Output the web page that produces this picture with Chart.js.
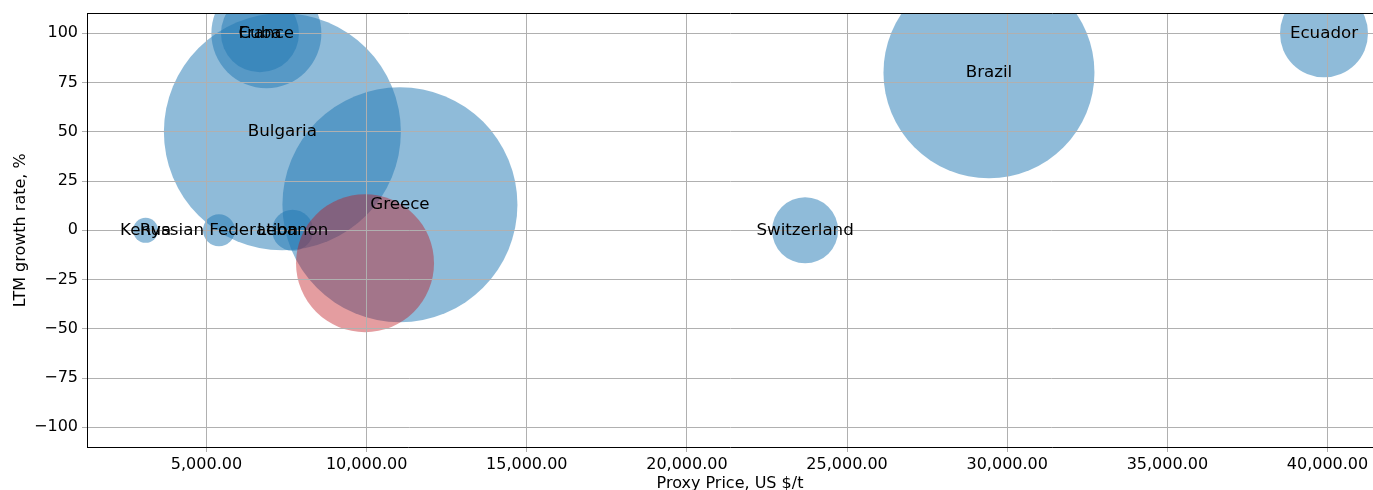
<!DOCTYPE html>
<html>
<head>
<meta charset="utf-8">
<script src="https://cdn.jsdelivr.net/npm/chart.js@4.4.1/dist/chart.umd.min.js"></script>
<style>
  html, body { margin: 0; padding: 0; background: #ffffff; }
  #wrap { width: 1373px; height: 490px; overflow: hidden; }
</style>
</head>
<body>
<div id="wrap"><canvas id="c" width="1373" height="490"></canvas></div>
<script>
// ---- data ----
const countries = ['Kenya', 'Russian Federation', 'Lebanon', 'Cuba', 'France', 'Bulgaria', 'Greece', 'Switzerland', 'Brazil', 'Ecuador'];
const proxyPrice = [3100, 5390, 7690, 6670, 6870, 7370, 11040, 23690, 29430, 39890];
const growthRate = [0, 0, 0, 100, 100, 50, 13, 0, 80, 100];
const bubbleRadius = [12.5, 16, 20.5, 39, 55, 118.5, 117.5, 33, 105.5, 44];

// highlighted (unlabelled) market
const highlightPrice = [9950];
const highlightGrowth = [-16.7];
const highlightRadius = [69];

const xTicks = [5000, 10000, 15000, 20000, 25000, 30000, 35000, 40000];
const yTicks = [-100, -75, -50, -25, 0, 25, 50, 75, 100];

// ---- chart ----
const FONT = 'DejaVu Sans';
const GRID = '#b0b0b0';

const mainData = countries.map((c, i) => ({ x: proxyPrice[i], y: growthRate[i], r: bubbleRadius[i], label: c }));
const highData = highlightPrice.map((p, i) => ({ x: p, y: highlightGrowth[i], r: highlightRadius[i] }));

const labelPlugin = {
  id: 'bubbleLabels',
  afterDraw(chart) {
    const ctx = chart.ctx;
    const meta = chart.getDatasetMeta(0);
    ctx.save();
    ctx.font = '16.7px "' + FONT + '"';
    ctx.fillStyle = '#000000';
    ctx.textAlign = 'center';
    ctx.textBaseline = 'middle';
    meta.data.forEach((el, i) => {
      ctx.fillText(chart.data.datasets[0].data[i].label, el.x, el.y);
    });
    ctx.restore();
  }
};

const fmtX = v => Number(v).toLocaleString('en-US', { minimumFractionDigits: 2, maximumFractionDigits: 2 });
const fmtY = v => v < 0 ? '\u2212' + Math.abs(v) : String(v);

new Chart(document.getElementById('c'), {
  type: 'bubble',
  data: {
    datasets: [
      {
        label: 'markets',
        data: mainData,
        backgroundColor: 'rgba(31,119,180,0.5)',
        borderWidth: 0,
        hoverBorderWidth: 0,
        order: 1,
        clip: 0
      },
      {
        label: 'highlight',
        data: highData,
        backgroundColor: 'rgba(190,22,28,0.42)',
        borderWidth: 0,
        hoverBorderWidth: 0,
        order: 0,
        clip: 0
      }
    ]
  },
  options: {
    responsive: false,
    devicePixelRatio: 1,
    animation: false,
    events: [],
    layout: { padding: 0, autoPadding: false },
    plugins: {
      legend: { display: false },
      tooltip: { enabled: false }
    },
    elements: { point: { hoverRadius: 0 } },
    scales: {
      x: {
        type: 'linear',
        position: 'bottom',
        min: 1270,
        max: 41420,
        afterBuildTicks: s => { s.ticks = xTicks.map(v => ({ value: v })); },
        afterFit: s => { s.height = 43; },
        ticks: {
          callback: v => fmtX(v),
          color: '#000000',
          font: { family: FONT, size: 16 },
          padding: 3,
          maxRotation: 0,
          autoSkip: false
        },
        grid: { color: GRID, lineWidth: 1, tickLength: 5, z: 1 },
        border: { display: true, color: '#000000', width: 1, z: 2 },
        title: {
          display: true,
          text: 'Proxy Price, US $/t',
          color: '#000000',
          font: { family: FONT, size: 16 },
          padding: { top: 0, bottom: -3 }
        }
      },
      xTop: {
        type: 'linear',
        position: 'top',
        min: 1270,
        max: 41420,
        afterFit: s => { s.height = 13; },
        ticks: { display: false },
        grid: { display: false, drawTicks: false },
        border: { display: true, color: '#000000', width: 1, z: 2 }
      },
      y: {
        type: 'linear',
        position: 'left',
        min: -110,
        max: 110,
        afterBuildTicks: s => { s.ticks = yTicks.map(v => ({ value: v })); },
        afterFit: s => { s.width = 87; },
        ticks: {
          callback: v => fmtY(v),
          color: '#000000',
          font: { family: FONT, size: 16 },
          padding: 4,
          autoSkip: false
        },
        grid: { color: GRID, lineWidth: 1, tickLength: 5, z: 1 },
        border: { display: true, color: '#000000', width: 1, z: 2 },
        title: {
          display: true,
          text: 'LTM growth rate, %',
          color: '#000000',
          font: { family: FONT, size: 16 },
          padding: { top: 11, bottom: 0 }
        }
      }
    }
  },
  plugins: [labelPlugin]
});
</script>
</body>
</html>
